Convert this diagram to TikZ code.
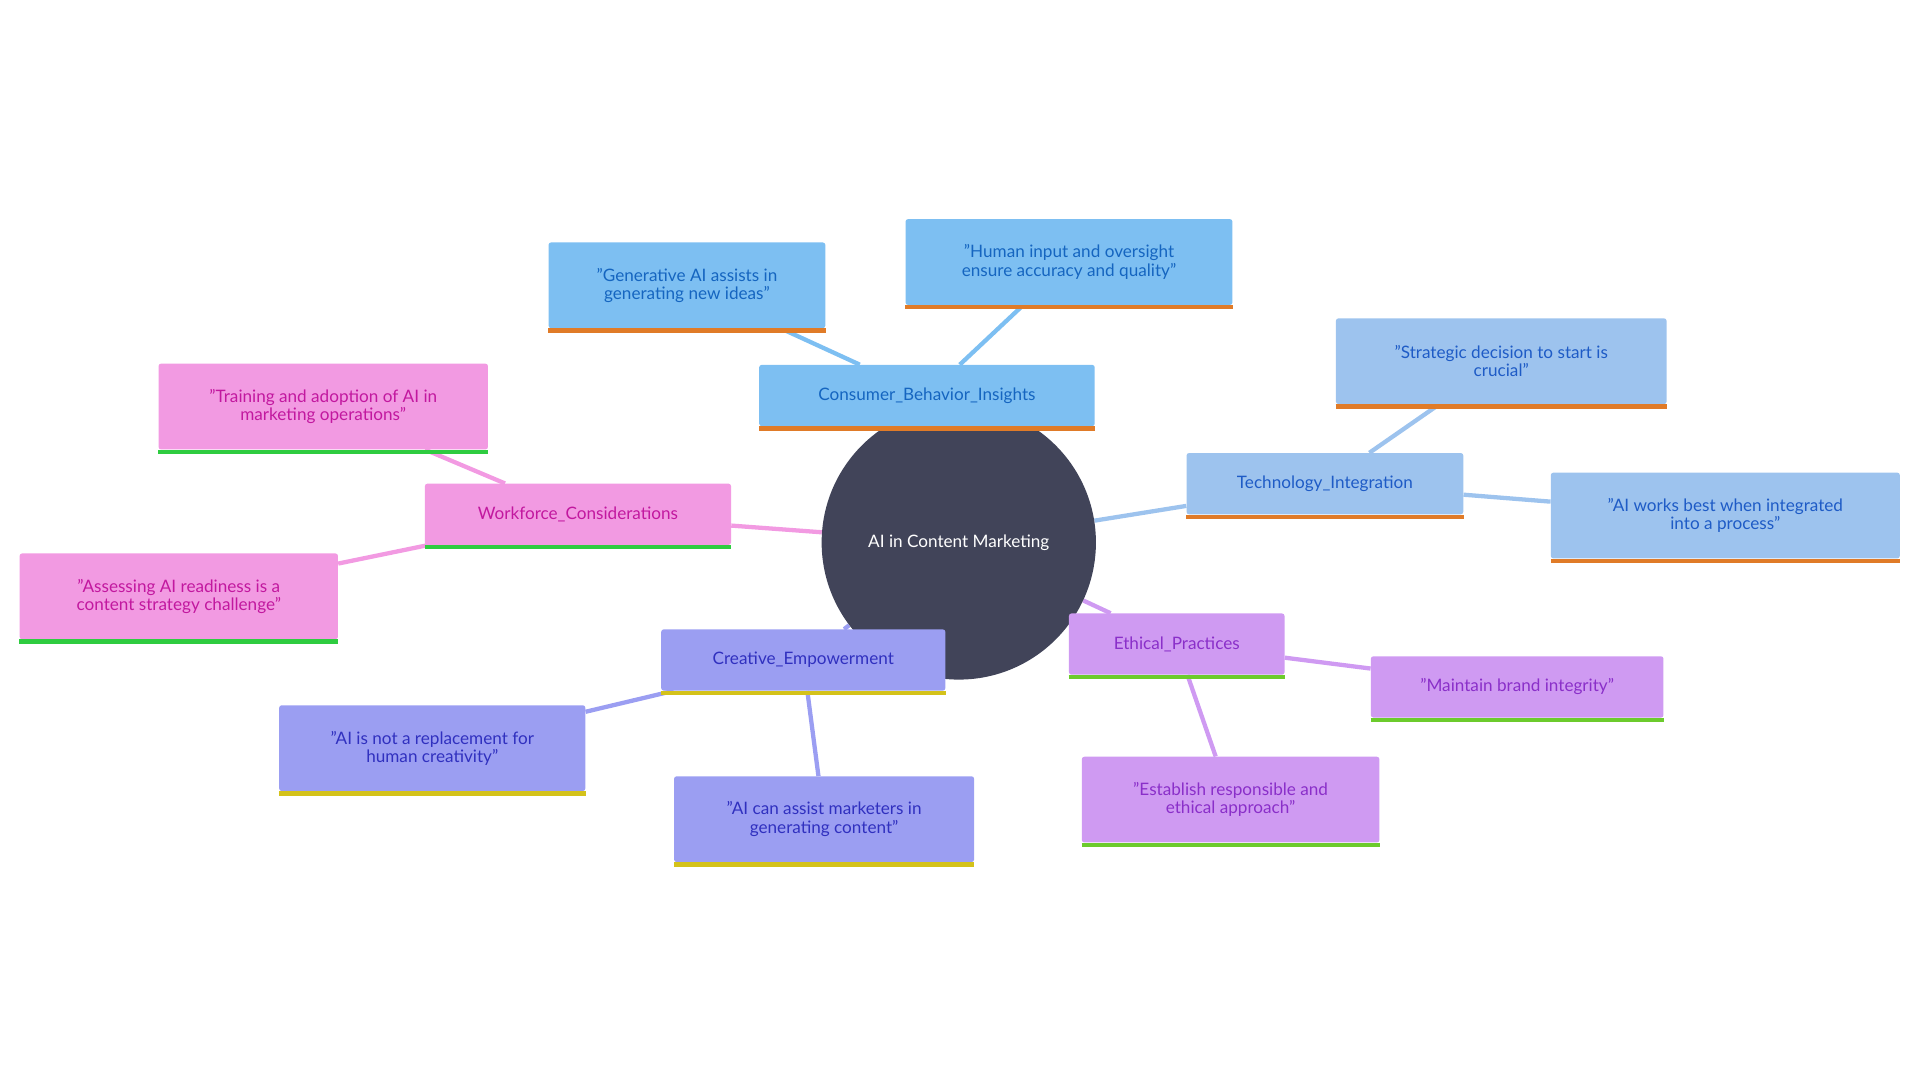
\documentclass[tikz,border=0pt]{standalone}
\usepackage{fontspec}
\setmainfont{Lato}
\usetikzlibrary{backgrounds}
\definecolor{hub}{HTML}{414459}
\definecolor{cbFill}{HTML}{7DBFF2}\definecolor{cbText}{HTML}{1565C0}
\definecolor{tiFill}{HTML}{9DC3EE}\definecolor{tiText}{HTML}{1E5BC6}
\definecolor{wfFill}{HTML}{F29AE2}\definecolor{wfText}{HTML}{C2189F}
\definecolor{ceFill}{HTML}{9B9EF2}\definecolor{ceText}{HTML}{3030BF}
\definecolor{epFill}{HTML}{CF9AF2}\definecolor{epText}{HTML}{8A2FC9}
\definecolor{lOrange}{HTML}{E07B28}\definecolor{lGreen}{HTML}{2ECC40}
\definecolor{lYellow}{HTML}{D4C21A}\definecolor{lLime}{HTML}{6CCB2C}
\begin{document}
\begin{tikzpicture}[x=1pt,y=-1pt,
    box/.style={rectangle,rounded corners=2pt,align=center,font=\fontsize{14}{15}\selectfont,inner sep=0pt},
    cbNode/.style={box,fill=cbFill,text=cbText},
    tiNode/.style={box,fill=tiFill,text=tiText},
    wfNode/.style={box,fill=wfFill,text=wfText},
    ceNode/.style={box,fill=ceFill,text=ceText},
    epNode/.style={box,fill=epFill,text=epText},
    link/.style={line width=3.5pt}]
    \useasboundingbox (0,0) rectangle (1568,882);
    \node[circle,fill=hub,text=white,minimum size=224pt,font=\fontsize{14}{15}\selectfont] (hub) at (783,443) {AI in Content Marketing};

    % branches
    \node[cbNode,minimum width=274pt,minimum height=50pt] (cb) at (757,323) {Consumer\_Behavior\_Insights};
    \node[cbNode,minimum width=226pt,minimum height=70pt] (cb_1) at (561,233) {"Generative AI assists in\\generating new ideas"};
    \node[cbNode,minimum width=267pt,minimum height=70pt] (cb_2) at (873,214) {"Human input and oversight\\ensure accuracy and quality"};

    \node[tiNode,minimum width=226pt,minimum height=50pt] (ti) at (1082,395) {Technology\_Integration};
    \node[tiNode,minimum width=270pt,minimum height=70pt] (ti_1) at (1226,295) {"Strategic decision to start is\\crucial"};
    \node[tiNode,minimum width=285pt,minimum height=70pt] (ti_2) at (1409,421) {"AI works best when integrated\\into a process"};

    \node[epNode,minimum width=176pt,minimum height=50pt] (ep) at (961,526) {Ethical\_Practices};
    \node[epNode,minimum width=239pt,minimum height=50pt] (ep_1) at (1239,561) {"Maintain brand integrity"};
    \node[epNode,minimum width=243pt,minimum height=70pt] (ep_2) at (1005,653) {"Establish responsible and\\ethical approach"};

    \node[ceNode,minimum width=232pt,minimum height=50pt] (ce) at (656,539) {Creative\_Empowerment};
    \node[ceNode,minimum width=250pt,minimum height=70pt] (ce_1) at (353,611) {"AI is not a replacement for\\human creativity"};
    \node[ceNode,minimum width=245pt,minimum height=70pt] (ce_2) at (673,669) {"AI can assist marketers in\\generating content"};

    \node[wfNode,minimum width=250pt,minimum height=50pt] (wf) at (472,420) {Workforce\_Considerations};
    \node[wfNode,minimum width=269pt,minimum height=70pt] (wf_1) at (264,332) {"Training and adoption of AI in\\marketing operations"};
    \node[wfNode,minimum width=260pt,minimum height=70pt] (wf_2) at (146,487) {"Assessing AI readiness is a\\content strategy challenge"};

    % coloured bottom edges
    \foreach \n/\c in {cb/lOrange,cb_1/lOrange,cb_2/lOrange,ti/lOrange,ti_1/lOrange,ti_2/lOrange,
        ep/lLime,ep_1/lLime,ep_2/lLime,ce/lYellow,ce_1/lYellow,ce_2/lYellow,wf/lGreen,wf_1/lGreen,wf_2/lGreen}
        \draw[\c,line width=3.5pt] ([yshift=-1.75pt]\n.south west)--([yshift=-1.75pt]\n.south east);

    % connectors
    \begin{scope}[on background layer]
        \foreach \b/\c in {cb/cbFill,ti/tiFill,ep/epFill,ce/ceFill,wf/wfFill}{
            \draw[link,\c](hub)--(\b);
            \draw[link,\c](\b)--(\b_1);
            \draw[link,\c](\b)--(\b_2);
        }
    \end{scope}
\end{tikzpicture}
\end{document}
